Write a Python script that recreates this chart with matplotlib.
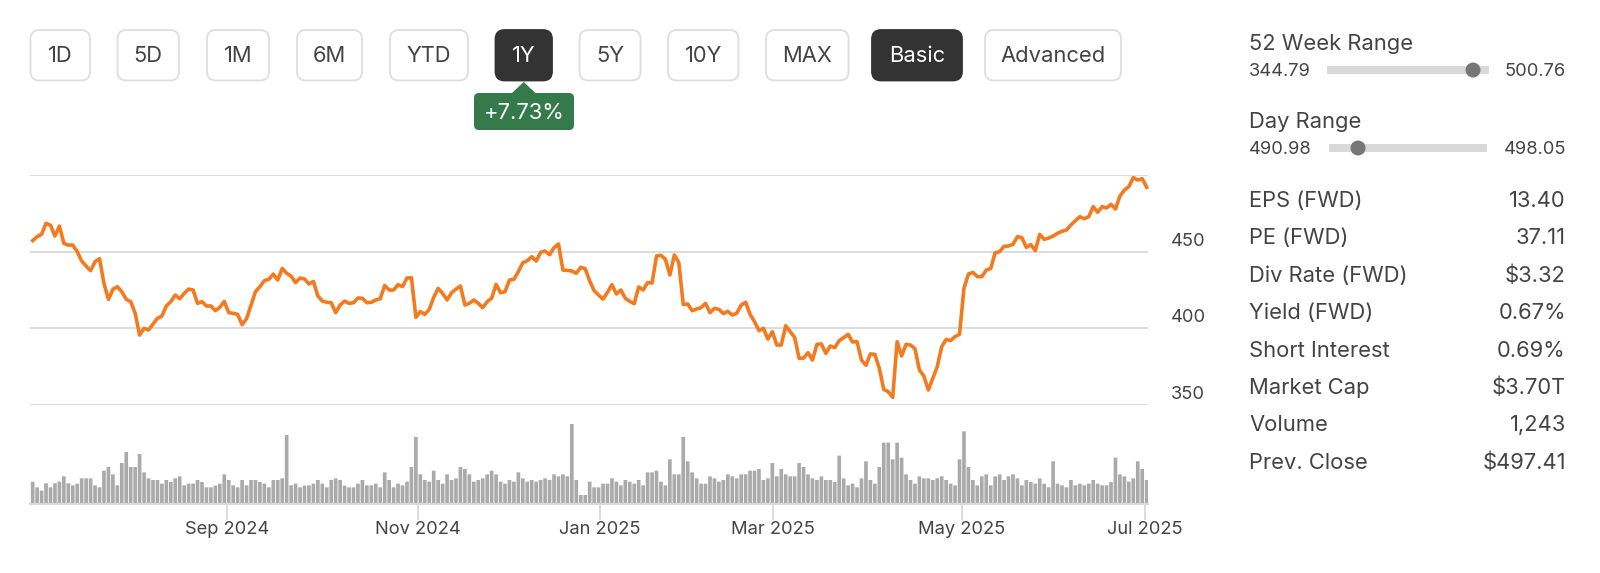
import numpy as np
import matplotlib
matplotlib.use('Agg')
import matplotlib.pyplot as plt
from matplotlib.patches import FancyBboxPatch, Polygon, Rectangle, Circle
from matplotlib.transforms import ScaledTranslation

plt.rcParams['font.family'] = ['Inter', 'DejaVu Sans']

# daily close
price = [
    457.2, 459.8, 461.3, 468.5, 467.2, 460.2, 466.7, 455.4, 454.3, 454.3,
    450.0, 443.9, 440.6, 437.6, 443.5, 445.4, 429.3, 418.9, 425.4, 427.2,
    423.9, 418.9, 417.4, 409.8, 395.6, 400.0, 398.9, 402.8, 406.5, 408.0,
    414.6, 417.4, 421.7, 419.3, 422.8, 425.6, 425.0, 416.3, 417.4, 414.6,
    414.6, 411.5, 413.7, 417.6, 410.2, 409.8, 409.1, 402.4, 406.3, 415.2,
    423.9, 427.2, 431.1, 432.0, 435.4, 431.5, 439.1, 435.9, 434.1, 429.8,
    432.8, 432.2, 428.9, 430.6, 421.1, 417.8, 417.0, 416.7, 410.2, 415.2,
    417.8, 416.3, 416.7, 419.8, 419.6, 416.7, 417.0, 418.5, 419.3, 428.0,
    425.0, 425.0, 428.5, 427.2, 432.8, 433.0,
    407.2, 410.9, 409.1, 412.4, 420.2, 426.1, 422.8, 418.5, 423.2, 425.6,
    427.6, 415.2, 416.3, 418.5, 416.3, 413.5, 417.4, 419.6, 428.7, 423.2,
    423.9, 431.5, 432.0, 437.0, 442.8, 444.1, 446.7, 443.9, 449.6, 450.4,
    448.0, 452.6, 455.0, 438.0, 437.8, 437.4, 435.9, 439.8, 438.9, 430.9,
    424.6, 421.7, 419.1, 423.5, 428.5, 422.4, 425.0, 419.6, 417.6, 416.1,
    427.0, 425.0, 429.8, 429.6, 447.2, 447.6, 445.0, 434.8, 447.8, 443.0,
    415.6, 415.9, 411.5, 412.6, 413.5, 416.3, 410.2, 413.0, 412.4, 409.6,
    411.1, 408.7, 409.8, 415.2, 417.0, 409.1, 404.3, 398.5,
    400.0, 393.0, 397.8, 389.1, 389.1, 401.7, 397.8, 394.1, 380.4, 380.6,
    384.1, 379.3, 389.6, 389.8, 383.7, 388.5, 387.4, 392.0, 393.9, 396.1,
    391.1, 391.3, 379.3, 375.9, 383.3, 383.0, 373.9, 360.2, 358.7, 355.0,
    391.3, 382.0, 389.6, 389.1, 386.7, 372.8, 368.9, 359.8, 367.4, 375.0,
    388.0, 392.8, 392.0, 394.6, 396.1, 426.1, 435.4, 436.5, 433.7, 433.7,
    438.0, 439.1, 449.3, 450.0, 453.5, 453.7, 454.8, 459.8, 459.1, 452.8,
    454.6, 450.7, 461.3, 458.0, 458.9, 460.2, 462.0, 463.3, 464.1, 467.4,
    470.2, 472.8, 471.5, 472.8, 479.4, 475.7, 479.4, 478.5, 480.9, 477.8,
    486.3, 490.2, 492.4, 498.3, 496.7, 497.6, 492.0,
]

# daily volume, relative units, no scale shown on the chart
volume = [
    67, 50, 40, 62, 50, 62, 67, 83, 62, 56,
    61, 77, 77, 77, 56, 50, 100, 111, 89, 56,
    123, 156, 111, 111, 150, 95, 77, 72, 72, 61,
    72, 66, 77, 83, 56, 61, 61, 72, 66, 50,
    50, 55, 61, 89, 72, 56, 50, 72, 56, 72,
    72, 66, 61, 50, 72, 72, 77, 207, 56, 61,
    50, 55, 56, 61, 72, 61, 50, 72, 77, 72,
    55, 50, 50, 61, 72, 56, 56, 61, 50, 95,
    72, 50, 61, 56, 67, 111, 201, 89,
    72, 67, 100, 72, 61, 89, 72, 77, 111, 105,
    89, 67, 72, 77, 89, 100, 89, 67, 61, 72,
    67, 95, 77, 67, 72, 67, 72, 77, 72, 89,
    83, 89, 83, 240, 72, 27, 27, 67, 50, 50,
    61, 61, 77, 67, 56, 72, 67, 61, 72, 56,
    95, 95, 100, 67, 56, 134, 89, 89, 201, 128,
    95, 77, 61, 61, 83, 77, 67, 72, 89, 83,
    77, 89, 89, 100, 100, 105, 72, 77,
    123, 83, 105, 89, 83, 83, 123, 111, 89, 77,
    72, 83, 72, 72, 66, 145, 77, 56, 61, 50,
    77, 128, 72, 61, 111, 184, 184, 134, 184, 139,
    89, 72, 61, 83, 77, 77, 72, 77, 83, 72,
    61, 56, 134, 218, 111, 72, 56, 83, 89, 56,
    83, 89, 72, 83, 89, 77, 56, 72, 66, 61,
    77, 61, 50, 128, 61, 56, 50, 72, 56, 61,
    56, 61, 72, 61, 56, 56, 66, 139, 89, 83,
    67, 77, 128, 105, 72,
]

date_ticks = [43.6, 86.5, 127.3, 166.1, 208.5, 249.6]
date_labels = ['Sep 2024', 'Nov 2024', 'Jan 2025', 'Mar 2025', 'May 2025', 'Jul 2025']
price_ticks = [350, 400, 450, 500]
price_labels = ['350', '400', '450', '']

period_labels = ['1D', '5D', '1M', '6M', 'YTD', '1Y', '5Y', '10Y', 'MAX', 'Basic', 'Advanced']
active_labels = ['1Y', 'Basic']
change_label = '+7.73%'

stat_names = ['EPS (FWD)', 'PE (FWD)', 'Div Rate (FWD)', 'Yield (FWD)', 'Short Interest',
              'Market Cap', 'Volume', 'Prev. Close']
stat_values = ['13.40', '37.11', '$3.32', '0.67%', '0.69%', '$3.70T', '1,243', '$497.41']

week_range = ('344.79', '500.76')
day_range = ('490.98', '498.05')

GRID = '#d9d9d9'
TEXT = '#444444'
ORANGE = '#f47a20'
W, H = 1600, 573
BIG = 15.8
SMALL = 13.2

fig = plt.figure(figsize=(W / 100, H / 100), dpi=100, facecolor='white')

def px_axes(left, top, right, bottom):
    return fig.add_axes([left / W, 1 - bottom / H, (right - left) / W, (bottom - top) / H])

# page furniture is laid out in pixels
ui = px_axes(0, 0, W, H)
ui.set_xlim(0, W)
ui.set_ylim(H, 0)
ui.axis('off')

button_edges = [(30.5, 90), (117.5, 179), (207, 269), (297, 362), (390, 468), (495.5, 552),
                (579.5, 640.5), (668, 738.5), (766, 848.5), (872, 962), (985, 1121)]
for label, (x0, x1) in zip(period_labels, button_edges):
    active = label in active_labels
    ui.add_patch(FancyBboxPatch((x0, 30), x1 - x0, 50.5, boxstyle='round,pad=0,rounding_size=9',
                                fc='#333333' if active else 'white',
                                ec='#333333' if active else '#dedede', lw=1.3))
    ui.text((x0 + x1) / 2, 56.5, label, ha='center', va='center', fontsize=BIG,
            color='white' if active else TEXT)

# change badge under the 1Y button
green = '#357a4a'
ui.add_patch(FancyBboxPatch((474, 93), 100, 37, boxstyle='round,pad=0,rounding_size=5', fc=green, ec='none'))
ui.add_patch(Polygon([(511.5, 93.5), (523.7, 82), (536, 93.5)], fc=green, ec='none'))
ui.text(524, 113, change_label, ha='center', va='center', fontsize=BIG, color='white')

# range sliders
sliders = [(44.5, 71.5, week_range, 1327, 1489, 1473, '52 Week Range'),
           (122.5, 149.5, day_range, 1329, 1487, 1358, 'Day Range')]
for title_y, text_y, (lo, hi), x0, x1, dot, title in sliders:
    bar_y = text_y - 1.5
    ui.text(1249, title_y, title, ha='left', va='center', fontsize=BIG, color=TEXT)
    ui.text(1249, text_y, lo, ha='left', va='center', fontsize=SMALL, color=TEXT)
    ui.text(1566, text_y, hi, ha='right', va='center', fontsize=SMALL, color=TEXT)
    ui.add_patch(Rectangle((x0, bar_y - 3.8), x1 - x0, 7.6, fc='#d9d9d9', ec='none'))
    ui.add_patch(Circle((dot, bar_y), 7.5, fc='#777777', ec='none'))

for i, (name, value) in enumerate(zip(stat_names, stat_values)):
    y = 201 + i * 37.4
    ui.text(1249, y, name, ha='left', va='center', fontsize=BIG, color=TEXT)
    ui.text(1566, y, value, ha='right', va='center', fontsize=BIG, color=TEXT)

# price panel
xlim = (-0.6, 250.3)
ax = px_axes(30, 175, 1148, 405)
ax.patch.set_alpha(0)
ax.plot(range(len(price)), price, color=ORANGE, lw=2.6, solid_joinstyle='round', zorder=3, clip_on=False)
ax.set_xlim(*xlim)
ax.set_ylim(350, 500)
ax.set_xticks([])
ax.yaxis.tick_right()
ax.set_yticks(price_ticks)
ax.set_yticklabels(price_labels)
ax.grid(axis='y', color=GRID, lw=1.3)
ax.set_axisbelow(True)
ax.tick_params(axis='y', length=0, pad=16.5, labelsize=SMALL, labelcolor=TEXT)
for lab in ax.get_yticklabels():
    lab.set_verticalalignment('bottom')
    lab.set_transform(lab.get_transform() + ScaledTranslation(0, 1.5 / 72, fig.dpi_scale_trans))
for s in ax.spines.values():
    s.set_visible(False)

# volume panel
vol = px_axes(30, 410, 1148, 504)
vol.patch.set_alpha(0)
vol.bar(range(len(volume)), volume, width=0.82, color='#aaaaaa', snap=False)
vol.set_xlim(*xlim)
vol.set_ylim(0, 282)
vol.set_yticks([])
vol.set_xticks(date_ticks)
vol.set_xticklabels(date_labels)
vol.tick_params(axis='x', length=11.5, width=1.3, color=GRID, pad=1, labelsize=SMALL, labelcolor=TEXT)
for k in ['top', 'left', 'right']:
    vol.spines[k].set_visible(False)
vol.spines['bottom'].set_color(GRID)
vol.spines['bottom'].set_linewidth(1.5)

fig.savefig('out.png', dpi=100)
